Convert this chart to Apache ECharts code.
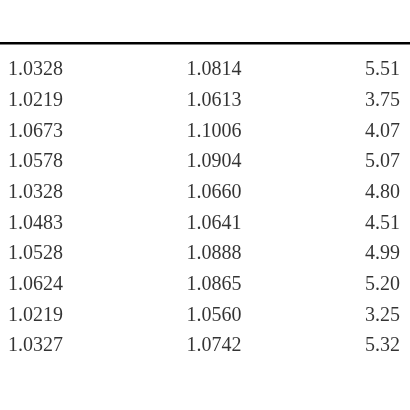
<!DOCTYPE html>
<html><head><meta charset="utf-8">
<script src="https://cdn.jsdelivr.net/npm/echarts@6/dist/echarts.min.js"></script>
<style>html,body{margin:0;padding:0;background:#fff}#c{width:410px;height:410px}</style>
</head><body><div id="c"></div>
<script>
var columns = ['Worst value', 'Average value', 'Standard deviation'];
var worst = ['1.0328','1.0219','1.0673','1.0578','1.0328','1.0483','1.0528','1.0624','1.0219','1.0327'];
var average = ['1.0814','1.0613','1.1006','1.0904','1.0660','1.0641','1.0888','1.0865','1.0560','1.0742'];
var stdev = ['5.51','3.75','4.07','5.07','4.80','4.51','4.99','5.20','3.25','5.32'];
var cols = [worst, average, stdev];
var font = 'Liberation Serif';
var chart = echarts.init(document.getElementById('c'));
var offs = [0, -6, 0];
chart.setOption({
  animation: false,
  grid: {left: 8, right: 45, top: 43, bottom: 0},
  xAxis: {type: 'value', min: 0, max: 2, interval: 1, position: 'top', show: false},
  yAxis: {type: 'value', inverse: true, min: -0.88, max: 11.09, show: false},
  graphic: [{type: 'rect', shape: {x: 0, y: 42, width: 410, height: 2.5}, style: {fill: '#000'}}],
  series: cols.map(function (arr, c) {
    var data = arr.map(function (v, i) { return {value: [c, i], txt: v}; });
    data.unshift({value: [c, -1.72], txt: columns[c]});
    return {type: 'scatter', symbolSize: 0, itemStyle: {color: 'rgba(0,0,0,0)'},
      data: data,
      label: {show: true, position: 'right', distance: 0, offset: [offs[c], 0],
        color: '#000', fontFamily: font, fontSize: 20,
        formatter: function (p) { return p.data.txt; }},
      labelLayout: {hideOverlap: false}};
  })
});
</script></body></html>
